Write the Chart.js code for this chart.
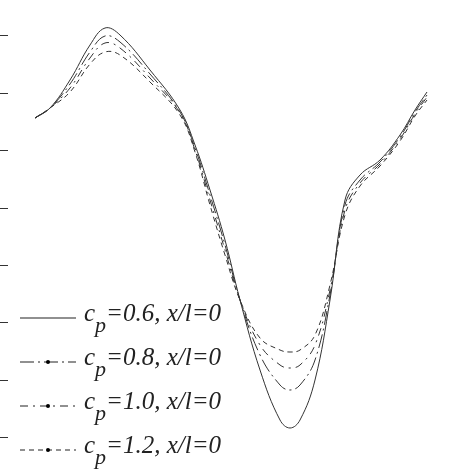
<!DOCTYPE html><html><head><script src="https://cdn.jsdelivr.net/npm/chart.js"></script>
<style>body{margin:0;background:#fff}#w{position:relative;width:474px;height:474px}
#lg{position:absolute;left:18px;top:296px;font-family:"Liberation Serif",serif;font-style:italic;font-size:25px;color:#222}
.r{height:44px;display:flex;align-items:center}.r svg{margin-right:6px}sub{font-size:22px;vertical-align:-11px}</style></head><body>
<div id="w"><canvas id="c" width="474" height="474"></canvas><div id="lg"></div></div>
<script>
const xs=[35,50,70,90,105,120,150,180,195,210,225,240,260,280,290,300,315,330,345,360,380,400,415,427];
const s06=[118,108,80,45,28,35,70,110,145,190,240,300,370,420,428,420,380,300,200,175,160,135,110,92];
const s08=[118,108,84,52,36,42,74,112,148,195,245,300,355,385,390,385,360,295,205,180,162,137,112,95];
const s10=[118,108,88,58,43,48,78,113,150,200,250,300,345,365,368,365,345,290,210,183,164,139,114,97];
const s12=[118,108,92,64,52,55,82,115,152,205,255,300,338,350,352,350,335,285,215,186,166,141,116,100];
const yTicks=[35,93,150,208,265,322,380,437];
const labels=["0.6","0.8","1.0","1.2"];
const dashes=[[],[14,4,2,4],[8,5,2,5],[5,4]];
const series=[s06,s08,s10,s12];
new Chart(document.getElementById('c'),{type:'line',data:{datasets:series.map((s,i)=>({data:s.map((v,j)=>({x:xs[j],y:v})),borderColor:'#333',borderWidth:1,borderDash:dashes[i],pointRadius:0,tension:0.4,fill:false}))},
options:{responsive:false,animation:false,plugins:{legend:{display:false},tooltip:{enabled:false}},layout:{padding:0},
scales:{x:{type:'linear',min:8,max:474,display:false},y:{reverse:true,min:0,max:474,afterBuildTicks:a=>{a.ticks=yTicks.map(v=>({value:v}))},ticks:{display:false},border:{display:false},grid:{drawOnChartArea:false,tickLength:8,color:'#333'}}}}});
const lg=document.getElementById('lg');
labels.forEach((l,i)=>{const d=document.createElement('div');d.className='r';
d.innerHTML=`<svg width="60" height="10"><line x1="2" y1="5" x2="58" y2="5" stroke="#222" stroke-width="1.2" stroke-dasharray="${dashes[i].join(' ')}"/>${i?'<circle cx="30" cy="5" r="2" fill="#000"/>':''}</svg><span>c<sub>p</sub>=${l}, x/l=0</span>`;lg.appendChild(d);});
</script></body></html>
